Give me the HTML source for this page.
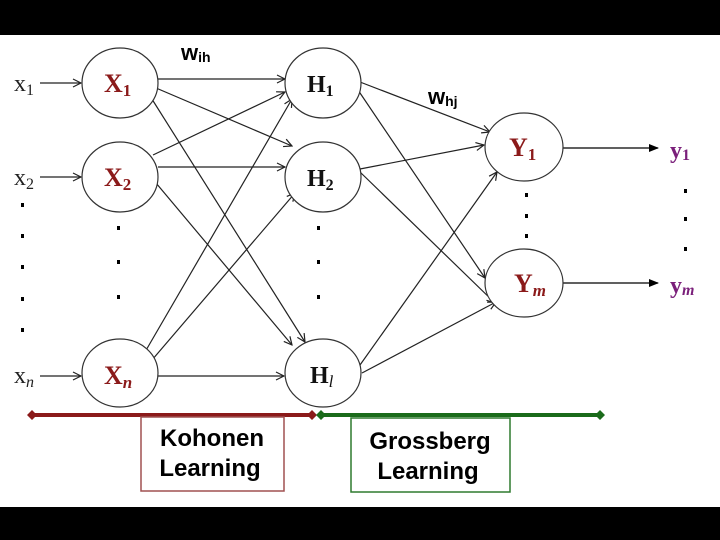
<!DOCTYPE html>
<html><head><meta charset="utf-8"><style>
html,body{margin:0;padding:0;background:#fff}
svg{display:block}
.t{font-family:"Liberation Serif",serif;font-weight:bold}
.s{font-family:"Liberation Sans",sans-serif;font-weight:bold}
</style></head><body>
<svg width="720" height="540" viewBox="0 0 720 540" xmlns="http://www.w3.org/2000/svg">
<defs>
<marker id="a" markerWidth="10" markerHeight="10" refX="9" refY="5" orient="auto" markerUnits="userSpaceOnUse">
<path d="M1,1 L9,5 L1,9" fill="none" stroke="#222" stroke-width="1.2"/></marker>
<marker id="f" markerWidth="10" markerHeight="10" refX="9" refY="5" orient="auto" markerUnits="userSpaceOnUse">
<path d="M0,1 L10,5 L0,9 z" fill="#000"/></marker>
</defs>
<rect x="0" y="0" width="720" height="35" fill="#000"/>
<rect x="0" y="507" width="720" height="33" fill="#000"/>
<g stroke="#222" stroke-width="1.2" fill="none">
<line x1="40" y1="83" x2="81" y2="83" marker-end="url(#a)"/>
<line x1="40" y1="177" x2="81" y2="177" marker-end="url(#a)"/>
<line x1="40" y1="376" x2="81" y2="376" marker-end="url(#a)"/>
<line x1="158" y1="79" x2="285" y2="79" marker-end="url(#a)"/>
<line x1="156" y1="88" x2="292" y2="146" marker-end="url(#a)"/>
<line x1="150" y1="96" x2="305" y2="342" marker-end="url(#a)"/>
<line x1="153" y1="155" x2="285" y2="92" marker-end="url(#a)"/>
<line x1="158" y1="167" x2="285" y2="167" marker-end="url(#a)"/>
<line x1="156" y1="183" x2="292" y2="345" marker-end="url(#a)"/>
<line x1="145" y1="352" x2="292" y2="99" marker-end="url(#a)"/>
<line x1="152" y1="360" x2="295" y2="193" marker-end="url(#a)"/>
<line x1="158" y1="376" x2="284" y2="376" marker-end="url(#a)"/>
<line x1="360" y1="82" x2="490" y2="132" marker-end="url(#a)"/>
<line x1="358" y1="90" x2="485" y2="278" marker-end="url(#a)"/>
<line x1="360" y1="169" x2="484" y2="145" marker-end="url(#a)"/>
<line x1="360" y1="172" x2="495" y2="303" marker-end="url(#a)"/>
<line x1="360" y1="365" x2="497" y2="172" marker-end="url(#a)"/>
<line x1="362" y1="373" x2="496" y2="302" marker-end="url(#a)"/>
</g>
<g stroke="#000" stroke-width="1.2">
<line x1="563" y1="148" x2="658" y2="148" marker-end="url(#f)"/>
<line x1="563" y1="283" x2="658" y2="283" marker-end="url(#f)"/>
</g>
<g fill="#fff" stroke="#333" stroke-width="1.2">
<ellipse cx="120" cy="83" rx="38" ry="35"/>
<ellipse cx="120" cy="177" rx="38" ry="35"/>
<ellipse cx="120" cy="373" rx="38" ry="34"/>
<ellipse cx="323" cy="83" rx="38" ry="35"/>
<ellipse cx="323" cy="177" rx="38" ry="35"/>
<ellipse cx="323" cy="373" rx="38" ry="34"/>
<ellipse cx="524" cy="147" rx="39" ry="34"/>
<ellipse cx="524" cy="283" rx="39" ry="34"/>
</g>
<g class="t" font-size="26" fill="#8b1a1a">
<text x="104" y="92">X<tspan font-size="17" dy="4">1</tspan></text>
<text x="104" y="186">X<tspan font-size="17" dy="4">2</tspan></text>
<text x="104" y="384">X<tspan font-size="17" dy="4" font-style="italic">n</tspan></text>
<text x="509" y="156">Y<tspan font-size="17" dy="4">1</tspan></text>
<text x="514" y="292">Y<tspan font-size="17" dy="4" font-style="italic">m</tspan></text>
</g>
<g class="t" font-size="24" fill="#111">
<text x="307" y="92">H<tspan font-size="16" dy="4">1</tspan></text>
<text x="307" y="186">H<tspan font-size="16" dy="4">2</tspan></text>
<text x="310" y="383">H<tspan font-size="17" dy="4" font-style="italic" font-weight="normal">l</tspan></text>
</g>
<g font-family="Liberation Serif,serif" font-size="24" fill="#222">
<text x="14" y="91">x<tspan font-size="16" dy="4">1</tspan></text>
<text x="14" y="185">x<tspan font-size="16" dy="4">2</tspan></text>
<text x="14" y="383">x<tspan font-size="16" dy="4" font-style="italic">n</tspan></text>
</g>
<g class="t" font-size="24" fill="#7a1f7a">
<text x="670" y="158">y<tspan font-size="16" dy="2">1</tspan></text>
<text x="670" y="293">y<tspan font-size="16" dy="2" font-style="italic">m</tspan></text>
</g>
<text class="s" x="181" y="60" font-size="22" fill="#000">w<tspan font-size="14" dy="2">ih</tspan></text>
<text class="s" x="428" y="104" font-size="22" fill="#000">w<tspan font-size="14" dy="2">hj</tspan></text>
<g fill="#000">
<rect x="21" y="203" width="3" height="4"/><rect x="21" y="234" width="3" height="4"/><rect x="21" y="265" width="3" height="4"/><rect x="21" y="297" width="3" height="4"/><rect x="21" y="328" width="3" height="4"/>
<rect x="117" y="226" width="3" height="4"/><rect x="117" y="260" width="3" height="4"/><rect x="117" y="295" width="3" height="4"/>
<rect x="317" y="226" width="3" height="4"/><rect x="317" y="260" width="3" height="4"/><rect x="317" y="295" width="3" height="4"/>
<rect x="525" y="193" width="3" height="4"/><rect x="525" y="214" width="3" height="4"/><rect x="525" y="234" width="3" height="4"/>
<rect x="684" y="189" width="3" height="4"/><rect x="684" y="217" width="3" height="4"/><rect x="684" y="247" width="3" height="4"/>
</g>
<line x1="32" y1="415" x2="312" y2="415" stroke="#8b1a1a" stroke-width="4"/>
<path d="M32,410 L37,415 L32,420 L27,415z M312,410 L317,415 L312,420 L307,415z" fill="#8b1a1a"/>
<line x1="320" y1="415" x2="600" y2="415" stroke="#1a6b1a" stroke-width="4"/>
<path d="M321,410 L326,415 L321,420 L316,415z M600,410 L605,415 L600,420 L595,415z" fill="#1a6b1a"/>
<rect x="141" y="417" width="143" height="74" fill="#fff" stroke="#a05050" stroke-width="1.5"/>
<rect x="351" y="418" width="159" height="74" fill="#fff" stroke="#2f7a2f" stroke-width="1.5"/>
<g class="s" font-size="24" fill="#000" text-anchor="middle">
<text x="212" y="446">Kohonen</text>
<text x="210" y="476">Learning</text>
<text x="430" y="449">Grossberg</text>
<text x="428" y="479">Learning</text>
</g>
</svg>
</body></html>
